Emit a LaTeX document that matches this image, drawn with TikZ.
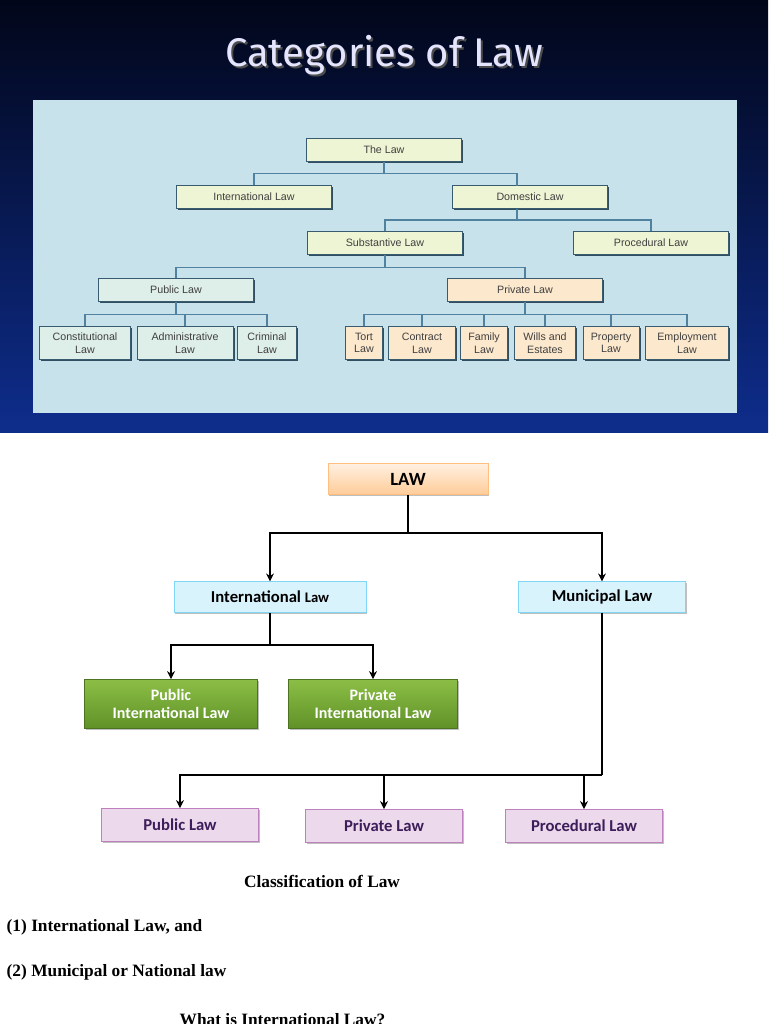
\documentclass[tikz,border=0pt]{standalone}
\usepackage{fontspec}
\setmainfont{Liberation Serif}
\newfontfamily\calfnt{Carlito}
\newfontfamily\helfnt{Liberation Sans}
\newfontfamily\ttlfnt{Fira Sans}
\usetikzlibrary{shadows,arrows.meta}
\definecolor{bgtop}{RGB}{2,6,25}
\definecolor{bgbot}{RGB}{14,45,140}
\definecolor{panel}{RGB}{200,226,236}
\definecolor{bx}{RGB}{238,245,212}
\definecolor{bxb}{RGB}{222,238,232}
\definecolor{bxo}{RGB}{252,232,205}
\definecolor{ln}{RGB}{80,130,160}
\definecolor{gtop}{RGB}{140,190,70}
\definecolor{gbot}{RGB}{95,145,40}
\definecolor{ptxt}{RGB}{60,30,90}
\begin{document}
\begin{tikzpicture}[x=0.75pt,y=-0.75pt,
 tb/.style={draw=ln!70!black,line width=0.6pt,font=\helfnt\fontsize{8}{9.5}\selectfont,align=center,inner sep=1pt,text=black!75,
   drop shadow={shadow xshift=1.2pt,shadow yshift=-1.2pt,fill=ln!60!black,opacity=1}},
 tl/.style={draw=ln,line width=0.8pt},
 bb/.style={draw=gray!60,inner sep=1pt,font=\calfnt\bfseries\fontsize{12.5}{13}\selectfont,align=center,
   drop shadow={shadow xshift=1pt,shadow yshift=-1pt,fill=gray!50,opacity=1}},
 ar/.style={line width=1.5pt,-{Stealth[length=6pt,width=6pt]}},
 ln/.style={line width=1.5pt}]
\useasboundingbox (0,0) rectangle (768,1024);
\fill[white] (0,0) rectangle (768,1024);
\shade[top color=bgtop,bottom color=bgbot] (0,0) rectangle (768,432);
\node[text=black!70,font=\ttlfnt\fontsize{30}{32}\selectfont] at (386,57) {Categories of Law};
\node[text=white!90!blue,font=\ttlfnt\fontsize{30}{32}\selectfont] at (384,55) (title) {Categories of Law};
\fill[panel] (33,100) rectangle (737,413);
% top tree
\node[tb,fill=bx,minimum width=116pt,minimum height=17pt] (thelaw) at (384,150) {The Law};
\node[tb,fill=bx,minimum width=116pt,minimum height=17pt] (intl) at (254,197) {International Law};
\node[tb,fill=bx,minimum width=116pt,minimum height=17pt] (dom) at (530,197) {Domestic Law};
\node[tb,fill=bx,minimum width=116pt,minimum height=17pt] (sub) at (385,243) {Substantive Law};
\node[tb,fill=bx,minimum width=116pt,minimum height=17pt] (proc) at (651,243) {Procedural Law};
\node[tb,fill=bxb,minimum width=116pt,minimum height=17pt] (pub) at (176,290) {Public Law};
\node[tb,fill=bxo,minimum width=116pt,minimum height=17pt] (priv) at (525,290) {Private Law};
\def\bot{343}
\node[tb,fill=bxb,minimum width=68pt,minimum height=25pt] (c1) at (85,\bot) {Constitutional\\Law};
\node[tb,fill=bxb,minimum width=72pt,minimum height=25pt] (c2) at (185,\bot) {Administrative\\Law};
\node[tb,fill=bxb,minimum width=44pt,minimum height=25pt] (c3) at (267,\bot) {Criminal\\Law};
\node[tb,fill=bxo,minimum width=28pt,minimum height=25pt] (p1) at (364,\bot) {Tort\\Law};
\node[tb,fill=bxo,minimum width=50pt,minimum height=25pt] (p2) at (422,\bot) {Contract\\Law};
\node[tb,fill=bxo,minimum width=35pt,minimum height=25pt] (p3) at (484,\bot) {Family\\Law};
\node[tb,fill=bxo,minimum width=46pt,minimum height=25pt] (p4) at (545,\bot) {Wills and\\Estates};
\node[tb,fill=bxo,minimum width=42pt,minimum height=25pt] (p5) at (611,\bot) {Property\\Law};
\node[tb,fill=bxo,minimum width=62pt,minimum height=25pt] (p6) at (687,\bot) {Employment\\Law};
\draw[tl] (thelaw.south) -- ++(0,12) -| (intl.north);
\draw[tl] (thelaw.south) -- ++(0,12) -| (517,186);
\draw[tl] (517,209) -- (517,220) -| (sub.north);
\draw[tl] (517,220) -| (proc.north);
\draw[tl] (sub.south) -- ++(0,13) -| (pub.north);
\draw[tl] (sub.south) -- ++(0,13) -| (priv.north);
\foreach \n in {c1,c2,c3}{\draw[tl] (pub.south) -- ++(0,13) -| (\n.north);}
\foreach \n in {p1,p2,p3,p4,p5,p6}{\draw[tl] (priv.south) -- ++(0,13) -| (\n.north);}
% bottom chart
\node[bb,top color=orange!12,bottom color=orange!40,draw=orange!50,minimum width=120pt,minimum height=23pt,font=\calfnt\bfseries\fontsize{14}{15}\selectfont] (law) at (408,479) {LAW};
\node[bb,fill=cyan!15,draw=cyan!50,minimum width=144pt,minimum height=23pt] (il) at (270,597) {International {\fontsize{11}{12}\selectfont Law}};
\node[bb,fill=cyan!15,draw=cyan!50,minimum width=125pt,minimum height=23pt] (ml) at (602,597) {Municipal Law};
\node[bb,top color=gtop,bottom color=gbot,draw=gbot!80!black,text=white,minimum width=130pt,minimum height=37pt,font=\calfnt\bfseries\fontsize{12}{13}\selectfont] (pil) at (171,704) {Public\\International Law};
\node[bb,top color=gtop,bottom color=gbot,draw=gbot!80!black,text=white,minimum width=127pt,minimum height=37pt,font=\calfnt\bfseries\fontsize{12}{13}\selectfont] (pvl) at (373,704) {Private\\International Law};
\node[bb,fill=violet!15,draw=violet!50,text=ptxt,minimum width=118pt,minimum height=25pt] (pl) at (180,825) {Public Law};
\node[bb,fill=violet!15,draw=violet!50,text=ptxt,minimum width=118pt,minimum height=25pt] (prl) at (384,826) {Private Law};
\node[bb,fill=violet!15,draw=violet!50,text=ptxt,minimum width=118pt,minimum height=25pt] (pcl) at (584,826) {Procedural Law};
\coordinate (j1) at (408,533);
\draw[ln] (law.south) -- (j1);
\draw[ar] (j1) -| (il.north);
\draw[ar] (j1) -| (ml.north);
\coordinate (j2) at (270,645);
\draw[ln] (il.south) -- (j2);
\draw[ar] (j2) -| (pil.north);
\draw[ar] (j2) -| (pvl.north);
\coordinate (j3) at (602,775);
\coordinate (j4) at (584,775);
\draw[ln] (ml.south) -- (j3);
\draw[ar] (j3) -| (pl.north);
\draw[ar] (j3) -| (prl.north);
\draw[ar] (j4) -- (pcl.north);
% text
\node[font=\bfseries\fontsize{13}{14}\selectfont] (cl) at (322,881) {Classification of Law};
\node[font=\bfseries\fontsize{13}{14}\selectfont,anchor=west] (t1) at (2,927) {(1) International Law, and};
\node[font=\bfseries\fontsize{13}{14}\selectfont,anchor=west] (t2) at (2,972) {(2) Municipal or National law};
\node[font=\bfseries\fontsize{13}{14}\selectfont,anchor=west] (t3) at (175,1020) {What is International Law?};
\end{tikzpicture}
\end{document}
